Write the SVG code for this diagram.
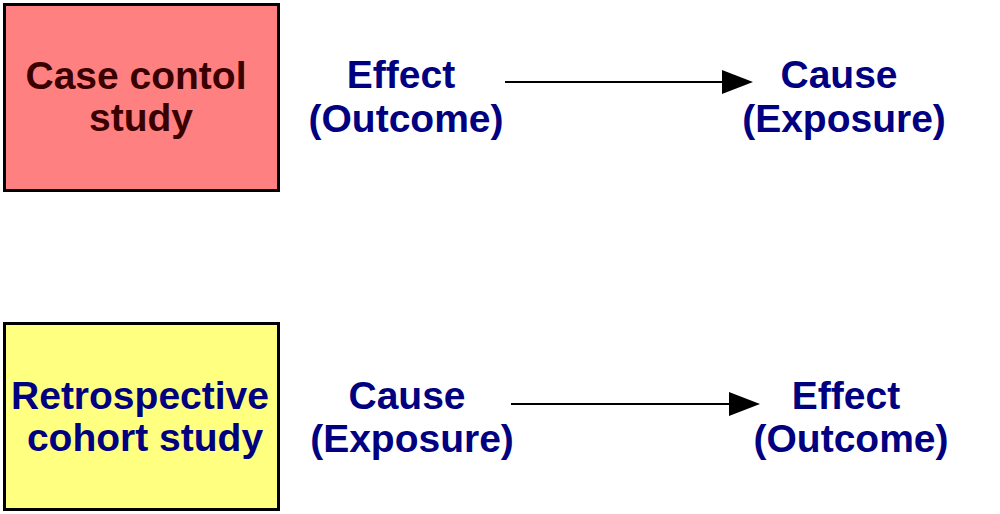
<svg xmlns="http://www.w3.org/2000/svg" width="1000" height="514" viewBox="0 0 1000 514">
<style>
  .t { font-family: "Liberation Sans", Arial, sans-serif; font-weight: bold; font-size: 39px; text-anchor: middle; }
  .navy { fill: #000080; }
  .maroon { fill: #3a0000; }
  .box { stroke: #000000; stroke-width: 3; }
  .conn { stroke: #000000; stroke-width: 2; fill: none; }
</style>
<defs>
  <marker id="arrow" markerUnits="userSpaceOnUse" markerWidth="31" markerHeight="24" refX="0" refY="12" orient="auto" viewBox="0 0 31 24">
    <path d="M0,0 L31,12 L0,24 Z" fill="#000000"/>
  </marker>
</defs>
<rect width="1000" height="514" fill="#ffffff"/>
<g id="case-control">
  <rect class="box" x="4.5" y="4.5" width="274" height="186" fill="#ff8080"/>
  <text class="t maroon" x="136" y="89">Case contol</text>
  <text class="t maroon" x="141" y="131">study</text>
</g>
<g id="retrospective-cohort">
  <rect class="box" x="4.5" y="323.5" width="274" height="186" fill="#ffff80"/>
  <text class="t navy" x="140" y="409">Retrospective</text>
  <text class="t navy" x="145" y="451">cohort study</text>
</g>
<g id="effect-top">
  <text class="t navy" x="401" y="88">Effect</text>
  <text class="t navy" x="406" y="132">(Outcome)</text>
</g>
<g id="cause-top">
  <text class="t navy" x="839" y="88">Cause</text>
  <text class="t navy" x="844" y="132">(Exposure)</text>
</g>
<g id="cause-bottom">
  <text class="t navy" x="407" y="409">Cause</text>
  <text class="t navy" x="412" y="452">(Exposure)</text>
</g>
<g id="effect-bottom">
  <text class="t navy" x="846" y="409">Effect</text>
  <text class="t navy" x="851" y="452">(Outcome)</text>
</g>
<g id="connectors">
  <line class="conn" x1="505" y1="82" x2="722" y2="82" marker-end="url(#arrow)"/>
  <line class="conn" x1="511" y1="404" x2="729" y2="404" marker-end="url(#arrow)"/>
</g>
</svg>
